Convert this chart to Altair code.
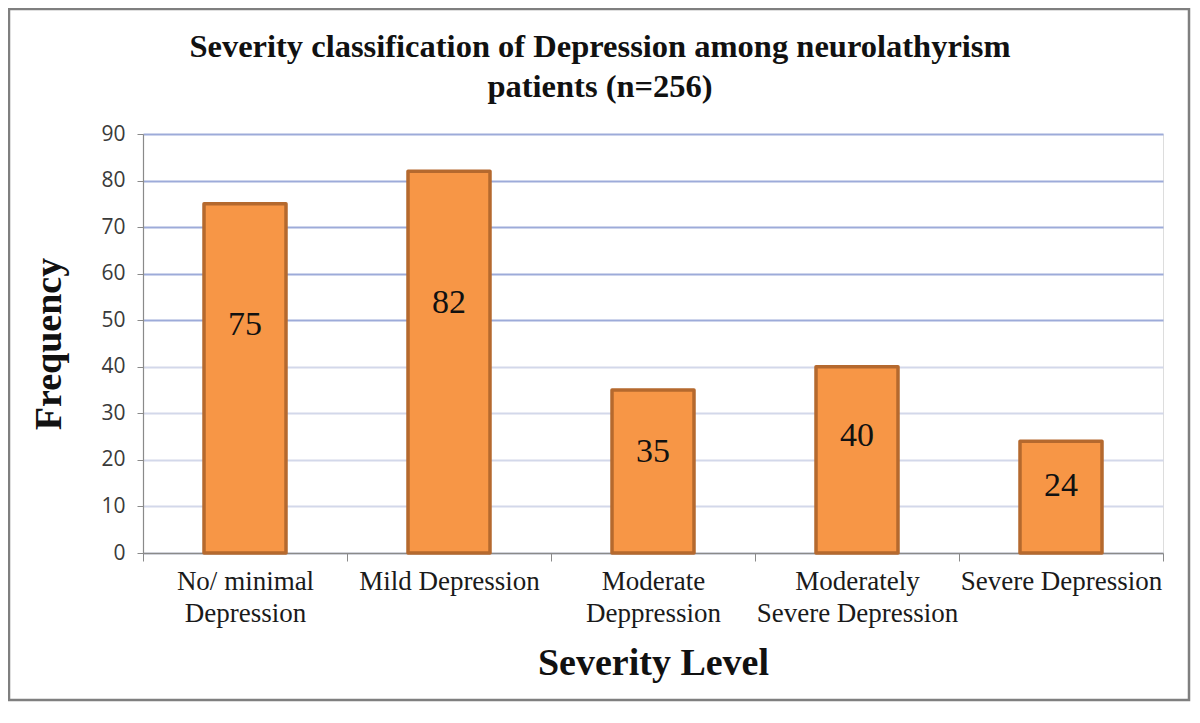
import altair as alt
import pandas as pd

title_lines = ["Severity classification of Depression among neurolathyrism", "patients (n=256)"]
categories = ["No/ minimal|Depression", "Mild Depression", "Moderate|Deppression",
              "Moderately|Severe Depression", "Severe Depression"]
frequency = [75, 82, 35, 40, 24]
y_ticks = [0, 10, 20, 30, 40, 50, 60, 70, 80, 90]

df = pd.DataFrame({"level": categories, "freq": frequency})

SERIF = "Liberation Serif"
SANS = "Open Sans"

x = alt.X("level:N", sort=categories, title="Severity Level",
          scale=alt.Scale(paddingInner=0, paddingOuter=0),
          axis=alt.Axis(labelExpr="split(datum.label, '|')", labelAngle=0,
                        labelFont=SERIF, labelFontSize=27, labelColor="#1a1a1a",
                        labelLineHeight=32, labelPadding=7, labelBaseline="top",
                        labelLimit=400,
                        tickBand="extent", tickSize=8, tickColor="#8a8a8a",
                        domainColor="#8a8a8a", domainWidth=1.5,
                        titleFont=SERIF, titleFontSize=38, titleFontWeight="bold",
                        titleColor="#111111", titlePadding=18, grid=False))

y = alt.Y("freq:Q", title="Frequency",
          scale=alt.Scale(domain=[0, 90], nice=False),
          axis=alt.Axis(values=y_ticks, labelFont=SANS, labelFontSize=21,
                        labelColor="#3a3a3a", labelPadding=12,
                        tickSize=6, tickColor="#8a8a8a",
                        domainColor="#8a8a8a", domainWidth=1.2,
                        gridColor={"condition": {"test": "datum.value >= 50", "value": "#9dabd9"},
                                   "value": "#d3d8ea"},
                        gridWidth=2,
                        titleFont=SERIF, titleFontSize=38, titleFontWeight="bold",
                        titleColor="#111111", titlePadding=32))

bars = alt.Chart(df).mark_bar(size=82, color="#f79646", stroke="#b5692e",
                              strokeWidth=3.5, strokeJoin="round").encode(x=x, y=y)

labels = alt.Chart(df).transform_calculate(lpos="datum.freq * 0.68 - 2").mark_text(
    font=SERIF, fontSize=34, color="#111111", baseline="middle"
).encode(x=alt.X("level:N", sort=categories), y=alt.Y("lpos:Q"), text="freq:Q")

title = alt.Chart(alt.Data(values=[{"t": "\n".join(title_lines)}])).mark_text(
    font=SERIF, fontSize=32.5, fontWeight="bold", color="#111111",
    lineBreak="\n", lineHeight=40, align="center", baseline="middle"
).encode(x=alt.value(457), y=alt.value(-87), text="t:N")

border = alt.Chart(alt.Data(values=[{"a": 1}])).mark_rect(
    fill=None, stroke="#7f7f7f", strokeWidth=2.5
).encode(x=alt.value(-134), x2=alt.value(1046), y=alt.value(-125), y2=alt.value(566))

chart = alt.layer(bars, labels, title, border).properties(
    width=1020, height=419,
    autosize=alt.AutoSizeParams(type="none"),
    padding={"left": 135, "top": 126, "right": 29, "bottom": 150},
).configure_view(stroke=None).configure(background="white")

chart.save("out.html", embed_options={"renderer": "svg", "actions": False})
